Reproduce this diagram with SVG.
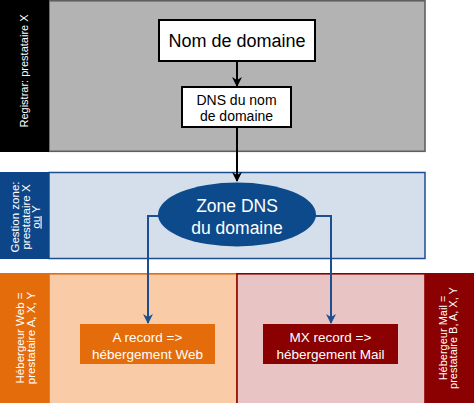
<svg xmlns="http://www.w3.org/2000/svg" width="474" height="403" viewBox="0 0 474 403">
<style>
text{font-family:"Liberation Sans",Arial,sans-serif;text-anchor:middle}
.w{fill:#fff}
.k{fill:#000}
.side{font-size:11.5px;fill:#fff}
.blk{stroke:#000;stroke-width:2;fill:none}
.blu{stroke:#1d4e8f;stroke-width:2;fill:none}
</style>
<defs>
<marker id="ak" markerWidth="10" markerHeight="10" refX="9" refY="5" orient="auto" markerUnits="userSpaceOnUse">
<path d="M0,0 L10,5 L0,10 L3,5 z" fill="#000"/>
</marker>
<marker id="ab" markerWidth="10" markerHeight="10" refX="9" refY="5" orient="auto" markerUnits="userSpaceOnUse">
<path d="M0,0 L10,5 L0,10 L3,5 z" fill="#1d4e8f"/>
</marker>
</defs>

<g id="registrar">
<rect x="49" y="0.8" width="376" height="150.5" fill="#b3b3b3" stroke="#5f5f5f" stroke-width="1.6"/>
<rect x="0" y="0" width="49" height="152" fill="#000"/>
<text class="side" font-size="11" transform="translate(27.5,71) rotate(-90)" style="font-size:11px">Registrar: prestataire X</text>
</g>

<g id="gestion">
<rect x="49" y="172.5" width="376" height="86" fill="#d5dfeb" stroke="#1d4e8f" stroke-width="1.5"/>
<rect x="0" y="172" width="49" height="87" fill="#0c4588"/>
<g transform="translate(0,217) rotate(-90)">
<text class="side" x="0" y="19">Gestion zone:</text>
<text class="side" x="0" y="29.5">prestataire X</text>
<text class="side" x="0" y="39.5"><tspan text-decoration="underline">ou</tspan> Y</text>
</g>
</g>

<g id="web">
<rect x="49" y="273.8" width="188" height="130" fill="#f9cba6" stroke="#e46c0a" stroke-width="1.6"/>
<rect x="0" y="273" width="49" height="130" fill="#e46c0a"/>
<g transform="translate(0,338) rotate(-90)">
<text class="side" x="0" y="24">Hébergeur Web =</text>
<text class="side" x="0" y="34.5">prestataire A, X, Y</text>
</g>
</g>

<g id="mail">
<rect x="237" y="273.8" width="188" height="130" fill="#e8c4c4" stroke="#8b0000" stroke-width="1.6"/>
<rect x="425" y="273" width="49" height="130" fill="#8b0000"/>
<g transform="translate(425,338) rotate(-90)">
<text class="side" x="0" y="22" style="font-size:11px">Hébergeur Mail =</text>
<text class="side" x="0" y="32" style="font-size:11px">prestataire B, A, X, Y</text>
</g>
</g>

<g id="connectors">
<path class="blk" d="M237,61 V86" marker-end="url(#ak)"/>
<path class="blk" d="M237,127 V181" marker-end="url(#ak)"/>
<path class="blu" d="M160,216 H148 V323" marker-end="url(#ab)"/>
<path class="blu" d="M314,216 H331 V323" marker-end="url(#ab)"/>
</g>

<g id="nom">
<rect x="159" y="20" width="156" height="41" fill="#fff" stroke="#000" stroke-width="2"/>
<text class="k" x="237" y="47" font-size="18">Nom de domaine</text>
</g>

<g id="dns">
<rect x="182" y="87" width="109" height="40" fill="#fff" stroke="#000" stroke-width="2"/>
<text class="k" x="236.5" y="104.5" font-size="14">DNS du nom</text>
<text class="k" x="236.5" y="121" font-size="14">de domaine</text>
</g>

<g id="zone">
<ellipse cx="237" cy="214.5" rx="79" ry="32" fill="#0d4a8b"/>
<text class="w" x="237" y="212" font-size="17.5">Zone DNS</text>
<text class="w" x="237" y="234" font-size="17.5">du domaine</text>
</g>

<g id="arecord">
<rect x="80" y="324" width="135" height="40" fill="#e46c0a"/>
<text class="w" x="147.5" y="342" font-size="13.5">A record =&gt;</text>
<text class="w" x="147.5" y="359" font-size="13.5">hébergement Web</text>
</g>

<g id="mxrecord">
<rect x="263" y="324" width="135" height="40" fill="#8b0000"/>
<text class="w" x="330.5" y="342" font-size="13.5">MX record =&gt;</text>
<text class="w" x="330.5" y="359" font-size="13.5">hébergement Mail</text>
</g>
</svg>
